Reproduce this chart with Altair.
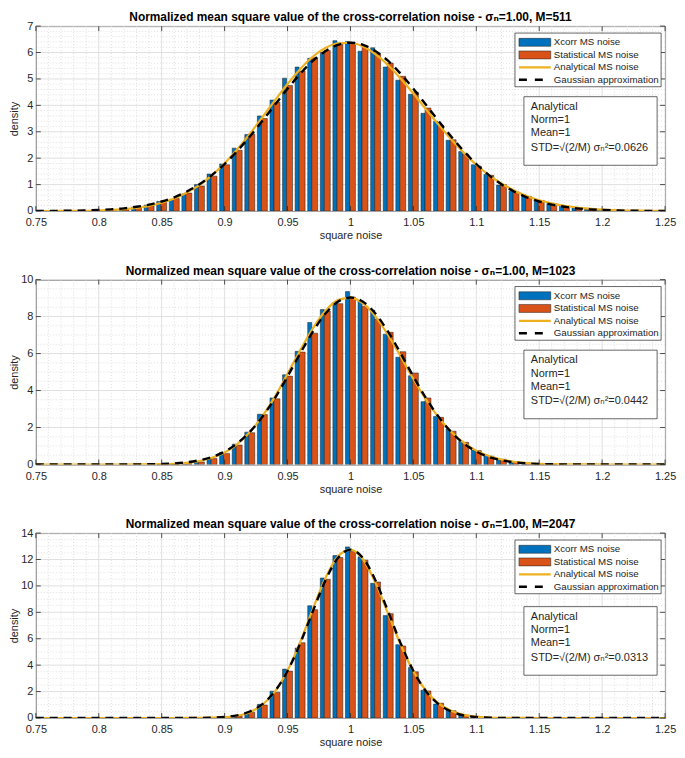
import altair as alt
import pandas as pd

FONT = "Liberation Sans, DejaVu Sans, Arial, sans-serif"
BLUE = "#0072BD"
ORANGE = "#D95319"
YELLOW = "#EDB120"
EDGE = "#1c1c1c"
TXT = "#262626"

W, H = 633, 186

# bin centres of the histograms
BINS = [round(0.75 + 0.01 * i, 2) for i in range(51)]
X_TICKS = [0.75, 0.8, 0.85, 0.9, 0.95, 1.0, 1.05, 1.1, 1.15, 1.2, 1.25]

# ---------------- M = 511 ----------------
XCORR_511 = [0, 0, 0, 0.01, 0.01, 0.02, 0.04, 0.08, 0.15, 0.22, 0.36, 0.44, 0.65, 1.0, 1.4,
             1.78, 2.38, 2.9, 3.6, 4.2, 5.03, 5.45, 5.78, 6.0, 6.45,
             6.42, 6.05, 6.18, 5.45, 4.95, 4.42, 3.7, 3.4, 2.68, 2.25, 1.75, 1.38, 0.98, 0.75,
             0.62, 0.42, 0.28, 0.22, 0.12, 0.08, 0.05, 0.03, 0.02, 0.01, 0.005, 0]
STAT_511 = [0, 0, 0, 0.005, 0.01, 0.02, 0.05, 0.07, 0.13, 0.2, 0.32, 0.47, 0.68, 0.95, 1.32,
            1.75, 2.3, 2.92, 3.5, 4.12, 4.75, 5.3, 5.8, 6.08, 6.35,
            6.38, 6.25, 5.95, 5.6, 5.1, 4.5, 3.9, 3.25, 2.7, 2.15, 1.7, 1.35, 1.0, 0.72,
            0.55, 0.4, 0.27, 0.18, 0.12, 0.08, 0.05, 0.03, 0.02, 0.01, 0.005, 0]
ANALYT_511 = [0.0, 0.001, 0.002, 0.005, 0.01, 0.02, 0.04, 0.07, 0.12, 0.19, 0.31, 0.47, 0.70,
              0.98, 1.36, 1.81, 2.33, 2.92, 3.55, 4.19, 4.81, 5.37, 5.84, 6.17, 6.35,
              6.37, 6.23, 5.93, 5.52, 5.01, 4.45, 3.85, 3.27, 2.72, 2.21, 1.75, 1.36, 1.04,
              0.78, 0.57, 0.41, 0.29, 0.20, 0.13, 0.09, 0.055, 0.035, 0.02, 0.012, 0.007, 0.004]
GAUSS_511 = [0.002, 0.004, 0.007, 0.013, 0.023, 0.039, 0.064, 0.10, 0.16, 0.24, 0.36, 0.52,
             0.74, 1.01, 1.36, 1.78, 2.27, 2.82, 3.41, 4.02, 4.63, 5.19, 5.68, 6.05, 6.29,
             6.37, 6.29, 6.05, 5.68, 5.19, 4.63, 4.02, 3.41, 2.82, 2.27, 1.78, 1.36, 1.01,
             0.74, 0.52, 0.36, 0.24, 0.16, 0.10, 0.064, 0.039, 0.023, 0.013, 0.007, 0.004, 0.002]
Y_TICKS_511 = [0, 1, 2, 3, 4, 5, 6, 7]

# ---------------- M = 1023 ----------------
XCORR_1023 = [0, 0, 0, 0, 0, 0, 0, 0, 0, 0, 0.01, 0.03, 0.06, 0.15, 0.3,
              0.65, 1.1, 1.75, 2.72, 3.6, 4.85, 6.12, 7.68, 8.38, 8.75,
              9.35, 8.85, 8.35, 7.05, 5.8, 4.8, 3.4, 2.6, 1.92, 1.25, 0.78, 0.5, 0.3, 0.17,
              0.09, 0.05, 0.02, 0.01, 0, 0, 0, 0, 0, 0, 0, 0]
STAT_1023 = [0, 0, 0, 0, 0, 0, 0, 0, 0, 0, 0, 0.02, 0.05, 0.14, 0.32,
             0.6, 1.05, 1.72, 2.7, 3.55, 4.78, 6.08, 7.1, 8.3, 8.7,
             9.05, 8.55, 7.85, 7.15, 6.1, 4.95, 3.6, 2.55, 1.8, 1.2, 0.75, 0.45, 0.28, 0.15,
             0.08, 0.04, 0.02, 0, 0, 0, 0, 0, 0, 0, 0, 0]
ANALYT_1023 = [0, 0, 0, 0, 0, 0, 0, 0.001, 0.003, 0.008, 0.02, 0.04, 0.09, 0.19, 0.36,
               0.65, 1.10, 1.75, 2.61, 3.67, 4.90, 6.17, 7.35, 8.30, 8.89,
               9.03, 8.71, 8.00, 6.99, 5.83, 4.62, 3.51, 2.55, 1.77, 1.18, 0.75, 0.46, 0.27,
               0.15, 0.08, 0.04, 0.02, 0.01, 0.005, 0.002, 0.001, 0, 0, 0, 0, 0]
GAUSS_1023 = [0, 0, 0, 0, 0, 0, 0.001, 0.002, 0.005, 0.013, 0.028, 0.06, 0.12, 0.23, 0.41,
              0.70, 1.14, 1.76, 2.58, 3.59, 4.76, 6.00, 7.17, 8.15, 8.80,
              9.03, 8.80, 8.15, 7.17, 6.00, 4.76, 3.59, 2.58, 1.76, 1.14, 0.70, 0.41, 0.23,
              0.12, 0.06, 0.028, 0.013, 0.005, 0.002, 0.001, 0, 0, 0, 0, 0, 0]
Y_TICKS_1023 = [0, 2, 4, 6, 8, 10]

# ---------------- M = 2047 ----------------
XCORR_2047 = [0, 0, 0, 0, 0, 0, 0, 0, 0, 0, 0, 0, 0, 0.01, 0.03,
              0.08, 0.18, 0.42, 1.03, 2.03, 3.7, 5.3, 8.5, 10.6, 12.3,
              12.95, 12.2, 10.2, 7.75, 5.55, 3.83, 2.1, 1.05, 0.6, 0.28, 0.1, 0.04, 0.015,
              0, 0, 0, 0, 0, 0, 0, 0, 0, 0, 0, 0, 0]
STAT_2047 = [0, 0, 0, 0, 0, 0, 0, 0, 0, 0, 0, 0, 0, 0.005, 0.02,
             0.07, 0.16, 0.44, 0.98, 1.95, 3.55, 5.7, 8.2, 10.5, 12.15,
             12.6, 11.95, 10.3, 7.9, 5.45, 3.5, 2.05, 1.12, 0.55, 0.22, 0.1, 0.04, 0.012,
             0, 0, 0, 0, 0, 0, 0, 0, 0, 0, 0, 0, 0]
ANALYT_2047 = [0, 0, 0, 0, 0, 0, 0, 0, 0, 0, 0, 0, 0.001, 0.005, 0.02,
               0.06, 0.17, 0.44, 1.00, 2.00, 3.59, 5.73, 8.22, 10.57, 12.23,
               12.75, 12.00, 10.21, 7.88, 5.53, 3.53, 2.06, 1.10, 0.54, 0.23, 0.10, 0.035,
               0.012, 0.004, 0.001, 0, 0, 0, 0, 0, 0, 0, 0, 0, 0, 0]
GAUSS_2047 = [0, 0, 0, 0, 0, 0, 0, 0, 0, 0, 0, 0, 0.002, 0.008, 0.027,
              0.078, 0.20, 0.49, 1.05, 2.03, 3.56, 5.63, 8.05, 10.39, 12.11,
              12.75, 12.11, 10.39, 8.05, 5.63, 3.56, 2.03, 1.05, 0.49, 0.20, 0.078, 0.027,
              0.008, 0.002, 0, 0, 0, 0, 0, 0, 0, 0, 0, 0, 0, 0]
Y_TICKS_2047 = [0, 2, 4, 6, 8, 10, 12, 14]

LEGEND_LABELS = ["Xcorr MS noise", "Statistical MS noise", "Analytical MS noise",
                 "Gaussian approximation"]

ONE = pd.DataFrame({"k": [0]})


def vrect(x1, x2, y1, y2, **kw):
    return alt.Chart(ONE).mark_rect(**kw).encode(
        x=alt.value(x1), x2=alt.value(x2), y=alt.value(y1), y2=alt.value(y2))


def vtext(s, x, y, size=10.5):
    return alt.Chart(ONE).mark_text(align="left", baseline="middle", font=FONT,
                                    fontSize=size, color=TXT).encode(
        x=alt.value(x), y=alt.value(y), text=alt.value(s))


def vline(x1, x2, y, **kw):
    return alt.Chart(ONE).mark_rule(**kw).encode(
        x=alt.value(x1), x2=alt.value(x2), y=alt.value(y))


def panel(M, xcorr, stat, analyt, gauss, yticks, yminor_step, std_val, ann_dy):
    ymax = yticks[-1]
    xs = alt.Scale(domain=[0.75, 1.25], nice=False, zero=False)
    ys = alt.Scale(domain=[0, ymax], nice=False, zero=False)
    xax = alt.Axis(values=X_TICKS, format=".2~f", title="square noise", grid=False,
                   ticks=False, domain=False, labelFlush=False, labelOverlap=False,
                   labelPadding=6, titlePadding=2)
    yax = alt.Axis(values=yticks, title="density", grid=False, ticks=False, domain=False,
                   labelPadding=3, labelOverlap=False, titleX=-16)

    xminor = pd.DataFrame({"gx": [b for b in BINS if round(b * 100) % 5 != 0]})
    xmajor = pd.DataFrame({"gx": X_TICKS})
    nmin = int(round(ymax / yminor_step))
    ym = [round(i * yminor_step, 3) for i in range(1, nmin)]
    yminor = pd.DataFrame({"gy": [v for v in ym if v not in yticks]})
    ymajor = pd.DataFrame({"gy": yticks})

    minor_style = dict(color="#d6d6d6", strokeWidth=0.8, strokeDash=[1, 2])
    major_style = dict(color="#e0e0e0", strokeWidth=1)

    g1 = alt.Chart(xminor).mark_rule(**minor_style).encode(
        x=alt.X("gx:Q", scale=xs, axis=xax))
    g2 = alt.Chart(yminor).mark_rule(**minor_style).encode(
        y=alt.Y("gy:Q", scale=ys, axis=yax))
    g3 = alt.Chart(xmajor).mark_rule(**major_style).encode(
        x=alt.X("gx:Q", scale=xs, axis=xax))
    g4 = alt.Chart(ymajor).mark_rule(**major_style).encode(
        y=alt.Y("gy:Q", scale=ys, axis=yax))

    bars = pd.DataFrame({"c": BINS, "xcorr": xcorr, "stat": stat})
    curves = pd.DataFrame({"c": BINS, "analyt": analyt, "gauss": gauss})

    b_blue = alt.Chart(bars).transform_filter("datum.xcorr > 0").transform_calculate(
        x1="datum.c - 0.00395", x2="datum.c - 0.00075").mark_rect(
        color=BLUE, stroke=EDGE, strokeWidth=0.5, clip=True).encode(
        x=alt.X("x1:Q", scale=xs, axis=xax), x2="x2:Q",
        y=alt.Y("xcorr:Q", scale=ys, axis=yax), y2=alt.datum(0))
    b_orange = alt.Chart(bars).transform_filter("datum.stat > 0").transform_calculate(
        x1="datum.c - 0.00075", x2="datum.c + 0.00395").mark_rect(
        color=ORANGE, stroke=EDGE, strokeWidth=0.5, clip=True).encode(
        x=alt.X("x1:Q", scale=xs, axis=xax), x2="x2:Q",
        y=alt.Y("stat:Q", scale=ys, axis=yax), y2=alt.datum(0))

    l_an = alt.Chart(curves).mark_line(color=YELLOW, strokeWidth=2.2,
                                       interpolate="monotone", clip=True).encode(
        x=alt.X("c:Q", scale=xs, axis=xax), y=alt.Y("analyt:Q", scale=ys, axis=yax))
    l_ga = alt.Chart(curves).mark_line(color="black", strokeWidth=2.4, strokeDash=[8, 6],
                                       interpolate="monotone", clip=True).encode(
        x=alt.X("c:Q", scale=xs, axis=xax), y=alt.Y("gauss:Q", scale=ys, axis=yax))

    tk = dict(color=TXT, strokeWidth=0.8)
    t_b = alt.Chart(xmajor).mark_rule(**tk).encode(
        x=alt.X("gx:Q", scale=xs, axis=xax), y=alt.value(H), y2=alt.value(H - 5))
    t_t = alt.Chart(xmajor).mark_rule(**tk).encode(
        x=alt.X("gx:Q", scale=xs, axis=xax), y=alt.value(0), y2=alt.value(5))
    t_l = alt.Chart(ymajor).mark_rule(**tk).encode(
        y=alt.Y("gy:Q", scale=ys, axis=yax), x=alt.value(0), x2=alt.value(5))
    t_r = alt.Chart(ymajor).mark_rule(**tk).encode(
        y=alt.Y("gy:Q", scale=ys, axis=yax), x=alt.value(W - 5), x2=alt.value(W))

    # legend
    rows = [16.3, 29.0, 41.5, 54.0]
    leg = [vrect(482, 629, 7, 61, fill="white", stroke=TXT, strokeWidth=0.7),
           vrect(486, 518, rows[0] - 4, rows[0] + 4, fill=BLUE, stroke=EDGE, strokeWidth=0.5),
           vrect(486, 518, rows[1] - 4, rows[1] + 4, fill=ORANGE, stroke=EDGE, strokeWidth=0.5),
           vline(486, 518, rows[2], color=YELLOW, strokeWidth=2.2),
           vline(486, 518, rows[3], color="black", strokeWidth=2.4, strokeDash=[8, 8])]
    for lab, ry in zip(LEGEND_LABELS, rows):
        leg.append(vtext(lab, 521, ry, 9.8))

    # annotation box
    d = ann_dy
    ann = [vrect(491, 625, 71 + d, 140 + d, fill="white", stroke=TXT, strokeWidth=0.7),
           vtext("Analytical", 498, 81 + d, 11),
           vtext("Norm=1", 498, 94.5 + d, 11),
           vtext("Mean=1", 498, 108 + d, 11),
           vtext(f"STD=\u221a(2/M) \u03c3\u2099\u00b2={std_val}", 498, 122.5 + d, 11)]

    title = ("Normalized mean square value of the cross-correlation noise - "
             f"\u03c3\u2099=1.00, M={M}")
    return alt.layer(g1, g2, g3, g4, b_blue, b_orange, l_an, l_ga,
                     t_b, t_t, t_l, t_r, *leg, *ann).properties(
        width=W, height=H,
        title=alt.TitleParams(title, fontSize=12, fontWeight="bold", font=FONT,
                              color="black", offset=-4, anchor="middle"))


p1 = panel(511, XCORR_511, STAT_511, ANALYT_511, GAUSS_511, Y_TICKS_511, 0.2, "0.0626", 0)
p2 = panel(1023, XCORR_1023, STAT_1023, ANALYT_1023, GAUSS_1023, Y_TICKS_1023, 0.5, "0.0442", 0)
p3 = panel(2047, XCORR_2047, STAT_2047, ANALYT_2047, GAUSS_2047, Y_TICKS_2047, 0.5, "0.0313", 3)

chart = alt.vconcat(p1, p2, p3, spacing=22).properties(
    padding={"left": 0, "top": 0, "right": 0, "bottom": 0}
).configure_view(stroke="#666666", strokeWidth=1).configure_axis(
    labelFont=FONT, labelFontSize=11, labelColor=TXT,
    titleFont=FONT, titleFontSize=11, titleFontWeight="normal", titleColor=TXT
)

chart.save("out.html", embed_options={"renderer": "svg", "actions": False})
